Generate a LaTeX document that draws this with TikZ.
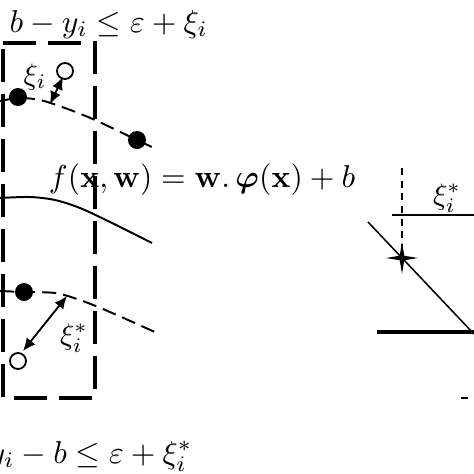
\documentclass[tikz,border=0pt]{standalone}
\usepackage{amsmath,bm}
\usetikzlibrary{arrows.meta,shapes.geometric}

\begin{document}
\begin{tikzpicture}[x=0.025cm,y=-0.025cm,
  dot/.style={circle,fill,inner sep=0pt,minimum size=0.45cm},
  hollow/.style={circle,draw,fill=white,line width=1.3pt,inner sep=0pt,minimum size=0.4cm},
  bigmath/.style={inner sep=0pt,scale=2.25},
  smallmath/.style={inner sep=0pt,scale=2.1},
  tube/.style={line width=2.8pt,dash pattern=on 23.5pt off 8.5pt},
  margin/.style={line width=1.4pt,dash pattern=on 10pt off 5pt},
  gap/.style={{Latex[length=9pt,width=8pt]}-{Latex[length=9pt,width=8pt]},line width=1.3pt}]
\useasboundingbox (0,0) rectangle (474,474);
\clip (0,0) rectangle (474,474);

\draw[tube] (3,43) -- (95,43) -- (95,398) -- (3,398) -- cycle;

\draw[margin] plot[smooth] coordinates {(0,101) (19,98) (40,100) (65,108) (95,120) (137,140) (154,148)};
\draw[line width=1.4pt] plot[smooth] coordinates {(0,198) (30,197) (55,200) (80,208) (110,222) (152,243)};
\draw[margin] plot[smooth] coordinates {(0,291) (24,292) (55,293) (80,300) (110,312) (157,333)};

\node[dot] (up1) at (18,97) {};
\node[dot] (up2) at (137,140) {};
\node[dot] (low1) at (24,292) {};
\node[hollow] (outup) at (65,71) {};
\node[hollow] (outlow) at (18,361) {};

\coordinate (gu1) at (50,104);
\coordinate (gu2) at (63,77);
\draw[gap] (gu1) -- (gu2);
\coordinate (gl1) at (67,296);
\coordinate (gl2) at (23,351);
\draw[gap] (gl1) -- (gl2);

\node[smallmath] (xiup) at (35,77) {$\xi_i$};
\node[smallmath] (xilow) at (74,338) {$\xi_i^{*}$};

\node[bigmath,anchor=base west] (uptext) at (9,32) {$b - y_i \leq \varepsilon + \xi_i$};
\node[bigmath,anchor=base east] (lowtext) at (193,463) {$y_i - b \leq \varepsilon + \xi_i^{*}$};
\node[bigmath,anchor=base] (model) at (202,187) {$f(\mathbf{x},\mathbf{w}) = \mathbf{w}.\,\bm{\varphi}(\mathbf{x}) + b$};

\node[star,star points=4,star point ratio=5,fill,inner sep=0pt,minimum size=0.8cm] (hit) at (402,258) {};
\coordinate (vtop) at (402,168);
\draw[line width=1pt,dash pattern=on 5pt off 4pt] (vtop) -- (hit.center);
\coordinate (d1) at (368,222);
\coordinate (d2) at (474,334);
\draw[line width=1.1pt] (d1) -- (d2);
\coordinate (h1) at (392,215);
\coordinate (h2) at (474,215);
\draw[line width=1.1pt] (h1) -- (h2);
\coordinate (b1) at (377,332);
\coordinate (b2) at (474,332);
\draw[line width=2.8pt] (b1) -- (b2);
\node[smallmath] (xiright) at (447,198) {$\xi_i^{*}$};
\draw[line width=1.5pt] (461,398) -- (468,398);
\end{tikzpicture}
\end{document}
